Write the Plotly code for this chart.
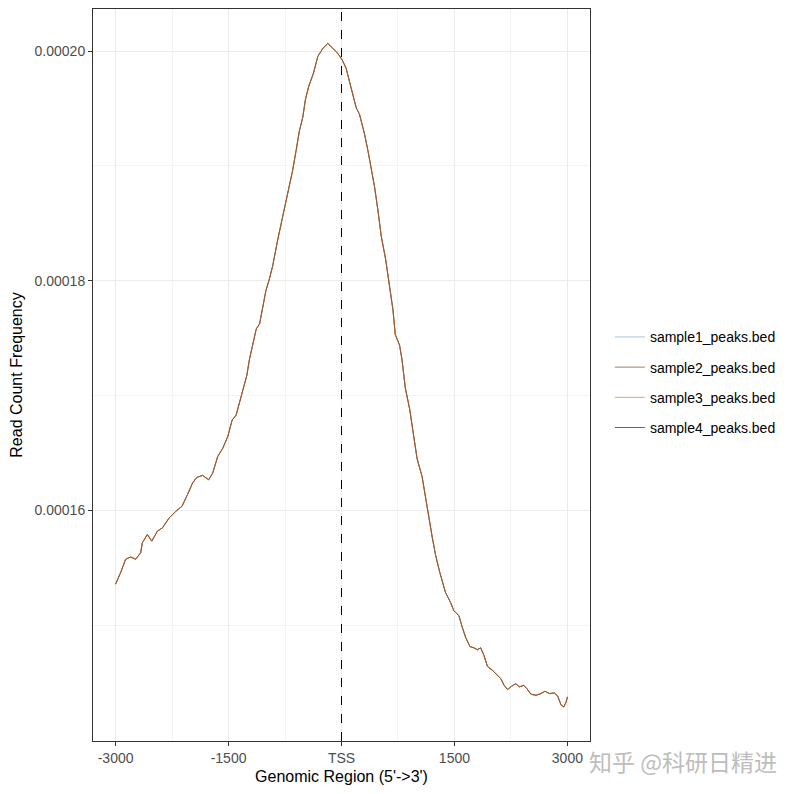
import plotly.graph_objects as go

# profile (position in bp relative to TSS, frequency)
positions = [-3000, -2933, -2867, -2800, -2733, -2667, -2645, -2578, -2520, -2445,
             -2378, -2289, -2199, -2119, -2045, -1978, -1924, -1844, -1764, -1711,
             -1644, -1577, -1511, -1452, -1399, -1355, -1311, -1257, -1221, -1177,
             -1132, -1088, -1004, -958, -914, -847, -781, -714, -649, -603,
             -559, -515, -479, -435, -372, -315, -248, -182, -116, -49,
             9, 61, 128, 195, 239, 306, 351, 395, 439, 483,
             528, 586, 639, 683, 714, 771, 803, 847, 905, 958,
             1004, 1070, 1114, 1158, 1204, 1248, 1305, 1381, 1448, 1492,
             1559, 1604, 1648, 1706, 1759, 1804, 1848, 1892, 1938, 2005,
             2071, 2115, 2159, 2205, 2258, 2316, 2360, 2418, 2462, 2516,
             2583, 2649, 2703, 2760, 2827, 2872, 2916, 2952, 2983, 3000]

frequency = [0.00015359, 0.00015460, 0.00015576, 0.00015596, 0.00015576, 0.00015633, 0.00015719, 0.00015792, 0.00015734, 0.00015821,
             0.00015849, 0.00015936, 0.00015994, 0.00016037, 0.00016139, 0.00016239, 0.00016288, 0.00016306, 0.00016268, 0.00016326,
             0.00016470, 0.00016542, 0.00016643, 0.00016788, 0.00016831, 0.00016932, 0.00017033, 0.00017177, 0.00017321, 0.00017437,
             0.00017581, 0.00017624, 0.00017914, 0.00018015, 0.00018129, 0.00018358, 0.00018559, 0.00018789, 0.00018961, 0.00019133,
             0.00019306, 0.00019421, 0.00019578, 0.00019693, 0.00019808, 0.00019952, 0.00020023, 0.00020066, 0.00020023, 0.00019980,
             0.00019923, 0.00019851, 0.00019679, 0.00019506, 0.00019449, 0.00019277, 0.00019133, 0.00018990, 0.00018818, 0.00018617,
             0.00018388, 0.00018187, 0.00017928, 0.00017749, 0.00017532, 0.00017440, 0.00017316, 0.00017069, 0.00016884, 0.00016636,
             0.00016451, 0.00016297, 0.00016112, 0.00015926, 0.00015771, 0.00015617, 0.00015462, 0.00015287, 0.00015200, 0.00015128,
             0.00015085, 0.00014984, 0.00014897, 0.00014816, 0.00014805, 0.00014788, 0.00014805, 0.00014738, 0.00014643, 0.00014609,
             0.00014565, 0.00014537, 0.00014479, 0.00014442, 0.00014470, 0.00014494, 0.00014464, 0.00014479, 0.00014450, 0.00014401,
             0.00014392, 0.00014407, 0.00014427, 0.00014407, 0.00014412, 0.00014384, 0.00014306, 0.00014291, 0.00014334, 0.00014378]

samples = ["sample1_peaks.bed", "sample2_peaks.bed", "sample3_peaks.bed", "sample4_peaks.bed"]
colors = ["#A9C4D9", "#9E7E66", "#E3A66A", "#93532D"]

x_ticks = [-3000, -1500, 0, 1500, 3000]
x_labels = ["-3000", "-1500", "TSS", "1500", "3000"]
y_ticks = [0.00016, 0.00018, 0.00020]
y_labels = ["0.00016", "0.00018", "0.00020"]

fig = go.Figure()

for name, col in zip(samples, colors):
    fig.add_trace(go.Scatter(x=positions, y=frequency, mode="lines", name=name,
                             legendgroup=name,
                             line=dict(color=col, width=1)))

fig.add_vline(x=0, line=dict(color="black", width=1, dash="dash"))

fig.add_annotation(text="知乎 @科研日精进", xref="paper", yref="paper",
                   x=1.0, y=-0.028, xanchor="center", yanchor="middle",
                   xshift=93, showarrow=False,
                   font=dict(family="Noto Sans CJK SC", size=23, color="#BDBDBD"))

axis_common = dict(showline=True, mirror=True, linecolor="#333333", linewidth=1,
                   ticks="outside", ticklen=4, tickcolor="#333333",
                   gridcolor="#EBEBEB", gridwidth=1, zeroline=False,
                   tickfont=dict(family="Liberation Sans, Arial", size=14, color="#4D4D4D"))

fig.update_xaxes(range=[-3300, 3300], tickmode="array", tickvals=x_ticks, ticktext=x_labels,
                 minor=dict(tickvals=[-2250, -750, 750, 2250], showgrid=True,
                            gridcolor="#F3F3F3", ticklen=0),
                 title=dict(text="Genomic Region (5'->3')", standoff=6,
                            font=dict(family="Liberation Sans, Arial", size=16, color="black")),
                 **axis_common)
fig.update_yaxes(range=[0.00013994, 0.00020366], tickmode="array", tickvals=y_ticks, ticktext=y_labels,
                 minor=dict(tickvals=[0.00015, 0.00017, 0.00019], showgrid=True,
                            gridcolor="#F3F3F3", ticklen=0),
                 title=dict(text="Read Count Frequency", standoff=8,
                            font=dict(family="Liberation Sans, Arial", size=16, color="black")),
                 **axis_common)

# the page body adds an 8px margin, so the figure is sized to fit inside it
fig.update_layout(width=787, height=786,
                  margin=dict(l=85, r=205, t=1, b=53),
                  plot_bgcolor="white", paper_bgcolor="white",
                  legend=dict(x=1.04, y=0.49, xanchor="left", yanchor="middle",
                              traceorder="grouped", tracegroupgap=9,
                              font=dict(family="Liberation Sans, Arial", size=14, color="black"),
                              bgcolor="rgba(0,0,0,0)"))

fig.write_html("out.html")
